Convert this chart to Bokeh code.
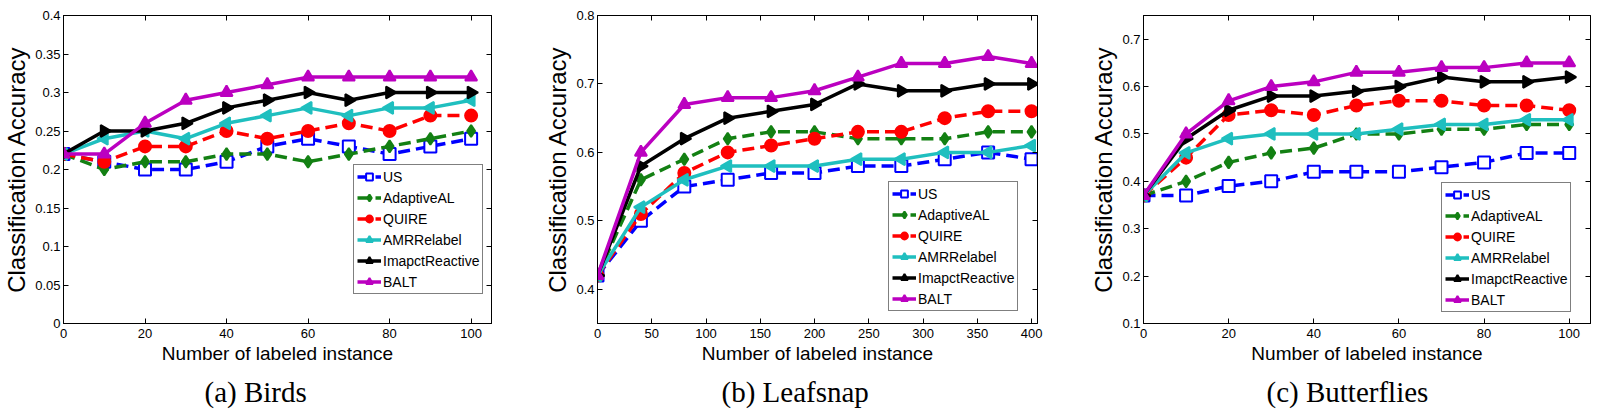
import math
from bokeh.plotting import figure
from bokeh.layouts import row
from bokeh.models import (Range1d, FixedTicker, CustomJSTickFormatter, LinearAxis, Title)
from bokeh.embed import file_html
from bokeh.resources import INLINE

# ---- data ----
methods = ["US", "AdaptiveAL", "QUIRE", "AMRRelabel", "ImapctReactive", "BALT"]

birds_x = [0, 10, 20, 30, 40, 50, 60, 70, 80, 90, 100]
birds_us = [0.22, 0.21, 0.20, 0.20, 0.21, 0.23, 0.24, 0.23, 0.22, 0.23, 0.24]
birds_adaptive = [0.22, 0.20, 0.21, 0.21, 0.22, 0.22, 0.21, 0.22, 0.23, 0.24, 0.25]
birds_quire = [0.22, 0.21, 0.23, 0.23, 0.25, 0.24, 0.25, 0.26, 0.25, 0.27, 0.27]
birds_amr = [0.22, 0.24, 0.25, 0.24, 0.26, 0.27, 0.28, 0.27, 0.28, 0.28, 0.29]
birds_impact = [0.22, 0.25, 0.25, 0.26, 0.28, 0.29, 0.30, 0.29, 0.30, 0.30, 0.30]
birds_balt = [0.22, 0.22, 0.26, 0.29, 0.30, 0.31, 0.32, 0.32, 0.32, 0.32, 0.32]

leaf_x = [0, 40, 80, 120, 160, 200, 240, 280, 320, 360, 400]
leaf_us = [0.42, 0.50, 0.55, 0.56, 0.57, 0.57, 0.58, 0.58, 0.59, 0.60, 0.59]
leaf_adaptive = [0.42, 0.56, 0.59, 0.62, 0.63, 0.63, 0.62, 0.62, 0.62, 0.63, 0.63]
leaf_quire = [0.42, 0.51, 0.57, 0.60, 0.61, 0.62, 0.63, 0.63, 0.65, 0.66, 0.66]
leaf_amr = [0.42, 0.52, 0.56, 0.58, 0.58, 0.58, 0.59, 0.59, 0.60, 0.60, 0.61]
leaf_impact = [0.42, 0.58, 0.62, 0.65, 0.66, 0.67, 0.70, 0.69, 0.69, 0.70, 0.70]
leaf_balt = [0.42, 0.60, 0.67, 0.68, 0.68, 0.69, 0.71, 0.73, 0.73, 0.74, 0.73]

butter_x = [0, 10, 20, 30, 40, 50, 60, 70, 80, 90, 100]
butter_us = [0.37, 0.37, 0.39, 0.40, 0.42, 0.42, 0.42, 0.43, 0.44, 0.46, 0.46]
butter_adaptive = [0.37, 0.40, 0.44, 0.46, 0.47, 0.50, 0.50, 0.51, 0.51, 0.52, 0.52]
butter_quire = [0.37, 0.45, 0.54, 0.55, 0.54, 0.56, 0.57, 0.57, 0.56, 0.56, 0.55]
butter_amr = [0.37, 0.46, 0.49, 0.50, 0.50, 0.50, 0.51, 0.52, 0.52, 0.53, 0.53]
butter_impact = [0.37, 0.49, 0.55, 0.58, 0.58, 0.59, 0.60, 0.62, 0.61, 0.61, 0.62]
butter_balt = [0.37, 0.50, 0.57, 0.60, 0.61, 0.63, 0.63, 0.64, 0.64, 0.65, 0.65]

birds_xticks = [0, 20, 40, 60, 80, 100]
birds_yticks = [0, 0.05, 0.1, 0.15, 0.2, 0.25, 0.3, 0.35, 0.4]
leaf_xticks = [0, 50, 100, 150, 200, 250, 300, 350, 400]
leaf_yticks = [0.4, 0.5, 0.6, 0.7, 0.8]
butter_xticks = [0, 20, 40, 60, 80, 100]
butter_yticks = [0.1, 0.2, 0.3, 0.4, 0.5, 0.6, 0.7]

# ---- styles per method ----
styles = {
    "US":             dict(color="#0000FF", dash="12 6", marker="square", angle=0.0, hollow=True),
    "AdaptiveAL":     dict(color="#138013", dash="12 6", marker="diamond", angle=0.0, hollow=False),
    "QUIRE":          dict(color="#FF0000", dash="12 6", marker="circle", angle=0.0, hollow=False),
    "AMRRelabel":     dict(color="#1FBFBF", dash="solid", marker="triangle", angle=math.pi / 2, hollow=False),
    "ImapctReactive": dict(color="#000000", dash="solid", marker="triangle", angle=-math.pi / 2, hollow=False),
    "BALT":           dict(color="#BB00C0", dash="solid", marker="triangle", angle=0.0, hollow=False),
}

SANS = "Liberation Sans"
SERIF = "Liberation Serif"

fmt = CustomJSTickFormatter(code="return String(Math.round(tick * 100) / 100);")
blank = CustomJSTickFormatter(code="return '';")


def panel(xs, ys_list, x_end, y_start, y_end, xticks, yticks, width, left, right, top,
          legend_xy, caption, caption_offset):
    p = figure(width=width, height=414, output_backend="svg", toolbar_location=None,
               x_range=Range1d(0, x_end), y_range=Range1d(y_start, y_end),
               min_border_left=left, min_border_right=right,
               min_border_top=top, min_border_bottom=91)
    p.grid.visible = False
    p.outline_line_color = "black"
    p.outline_line_width = 1
    p.background_fill_color = "white"

    for name, ys in zip(methods, ys_list):
        s = styles[name]
        p.line(xs, ys, line_color=s["color"], line_width=3.5, line_dash=s["dash"],
               legend_label=name)
        p.scatter(xs, ys, marker=s["marker"], angle=s["angle"], size=12,
                  line_color=s["color"], line_width=2,
                  fill_color="white" if s["hollow"] else s["color"],
                  legend_label=name)

    # main axes
    xa = p.xaxis[0]
    ya = p.yaxis[0]
    xa.ticker = FixedTicker(ticks=xticks)
    ya.ticker = FixedTicker(ticks=yticks)
    xa.formatter = fmt
    ya.formatter = fmt
    for ax in (xa, ya):
        ax.major_tick_in = 5
        ax.major_tick_out = 0
        ax.minor_tick_in = 0
        ax.minor_tick_out = 0
        ax.axis_line_color = "black"
        ax.major_tick_line_color = "black"
        ax.major_label_text_font = SANS
        ax.major_label_text_font_size = "13px"
        ax.major_label_text_color = "black"
        ax.axis_label_text_font = SANS
        ax.axis_label_text_font_style = "normal"
        ax.axis_label_text_color = "black"
    xa.axis_label = "Number of labeled instance"
    xa.axis_label_text_font_size = "19px"
    xa.major_label_standoff = 5
    xa.axis_label_standoff = 2
    ya.axis_label = "Classification Accuracy"
    ya.axis_label_text_font_size = "24px"
    ya.major_label_standoff = 3
    ya.axis_label_standoff = 2

    # mirrored tick marks on the top and right edges
    top_ax = LinearAxis(ticker=FixedTicker(ticks=xticks), formatter=blank)
    right_ax = LinearAxis(ticker=FixedTicker(ticks=yticks), formatter=blank)
    for ax in (top_ax, right_ax):
        ax.major_tick_in = 5
        ax.major_tick_out = 0
        ax.minor_tick_in = 0
        ax.minor_tick_out = 0
        ax.major_label_standoff = 0
        ax.major_label_text_font_size = "1px"
        ax.axis_line_color = "black"
        ax.major_tick_line_color = "black"
    p.add_layout(top_ax, "above")
    p.add_layout(right_ax, "right")

    # sub-figure caption
    cap = Title(text=caption, align="left", offset=caption_offset, standoff=14,
                text_font=SERIF, text_font_size="29px", text_font_style="normal",
                text_color="black")
    p.add_layout(cap, "below")

    lg = p.legend[0]
    lg.location = legend_xy
    lg.margin = 0
    lg.padding = 3
    lg.spacing = 4
    lg.label_height = 17
    lg.glyph_height = 17
    lg.glyph_width = 24
    lg.label_standoff = 2
    lg.label_text_font = SANS
    lg.label_text_font_size = "14px"
    lg.label_text_color = "black"
    lg.border_line_color = "black"
    lg.border_line_width = 1
    lg.background_fill_color = "white"
    lg.background_fill_alpha = 1.0
    return p


p1 = panel(birds_x, [birds_us, birds_adaptive, birds_quire, birds_amr, birds_impact, birds_balt],
           105, 0, 0.4, birds_xticks, birds_yticks,
           width=540, left=58, right=49, top=12, legend_xy=(290, 29),
           caption="(a) Birds", caption_offset=141)
p2 = panel(leaf_x, [leaf_us, leaf_adaptive, leaf_quire, leaf_amr, leaf_impact, leaf_balt],
           405.5, 0.35, 0.8, leaf_xticks, leaf_yticks,
           width=545, left=57, right=48, top=15, legend_xy=(291, 12),
           caption="(b) Leafsnap", caption_offset=124)
p3 = panel(butter_x, [butter_us, butter_adaptive, butter_quire, butter_amr, butter_impact, butter_balt],
           105, 0.1, 0.75, butter_xticks, butter_yticks,
           width=515, left=58, right=10, top=11, legend_xy=(298, 11),
           caption="(c) Butterflies", caption_offset=123)

layout = row(p1, p2, p3)
open("out.html", "w").write(file_html(layout, INLINE))
